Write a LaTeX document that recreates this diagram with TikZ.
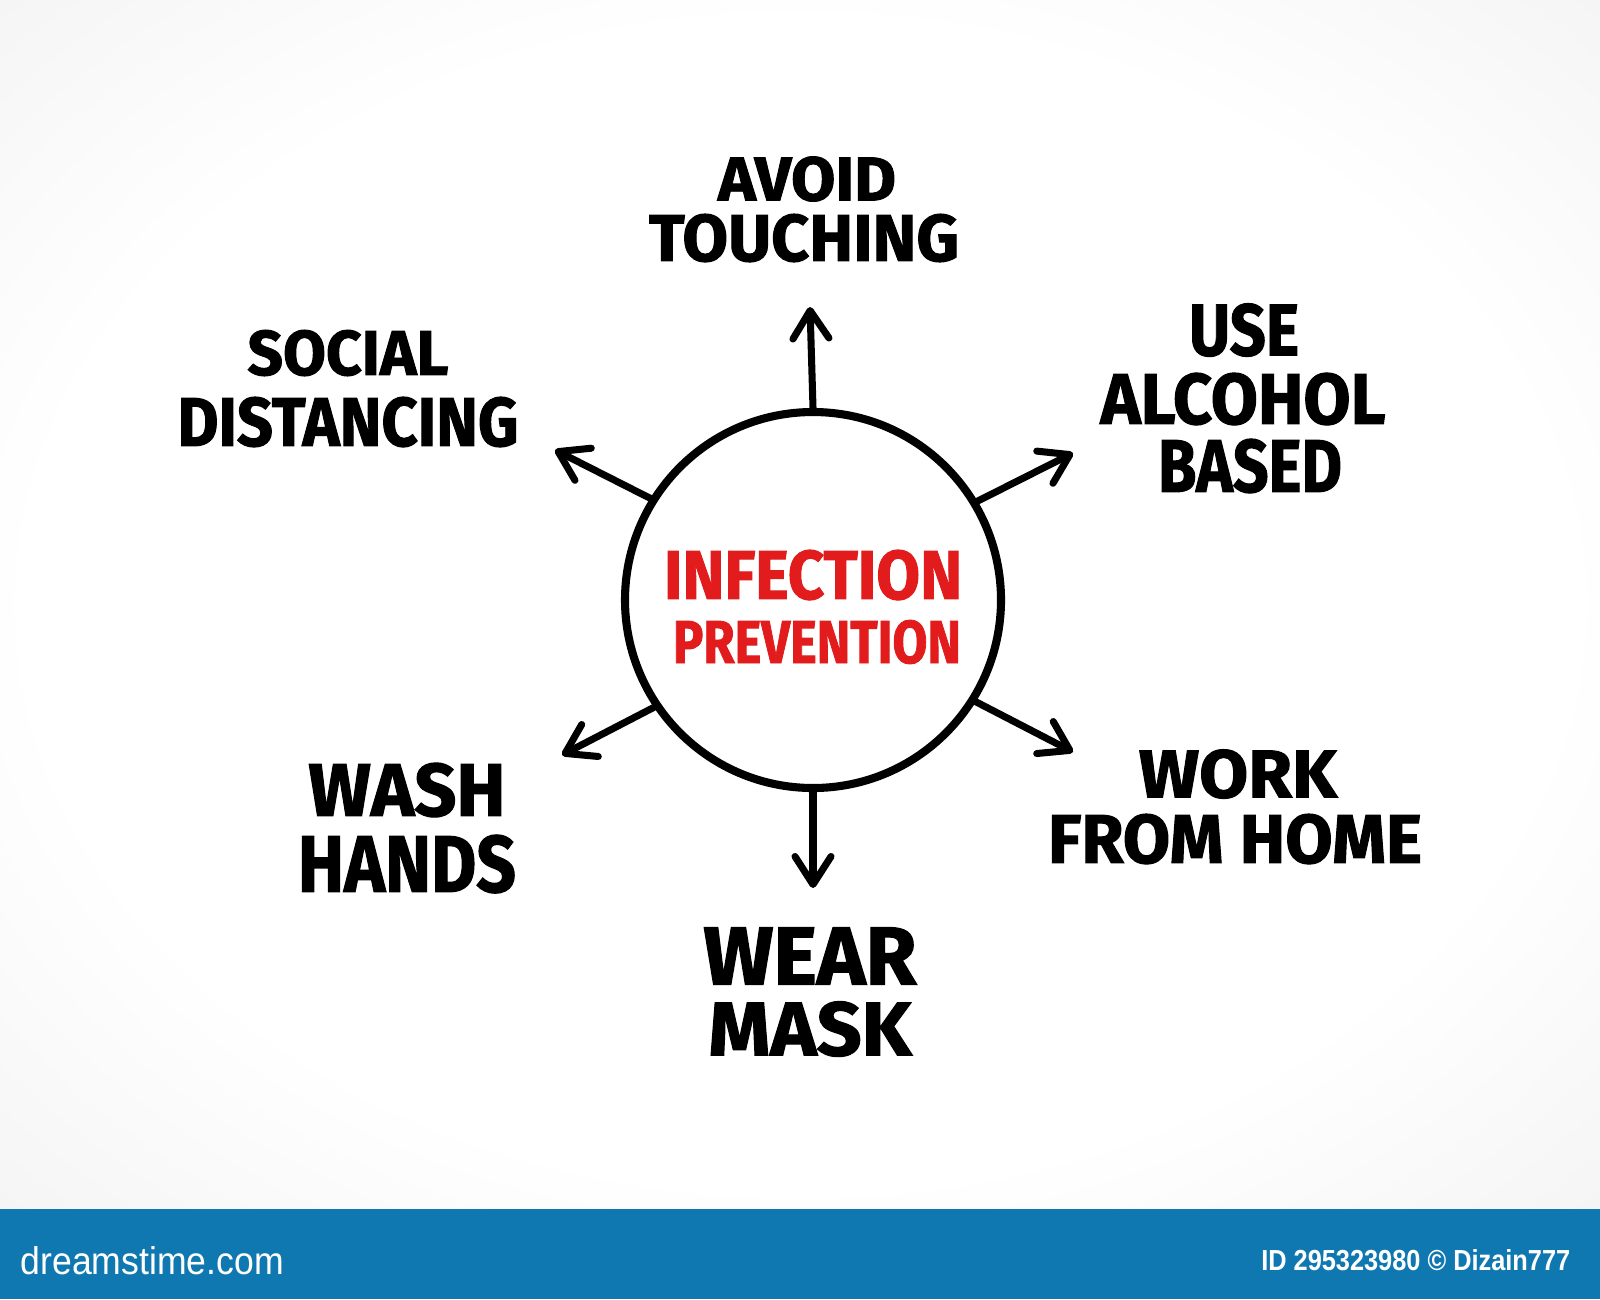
\documentclass[tikz,border=0pt]{standalone}
\usepackage{fontspec}
\setmainfont{Fira Sans}
\newfontfamily\hand{Fira Sans}[BoldFeatures={FakeBold=1.5}]
\newfontfamily\logofont{Liberation Sans}
\usetikzlibrary{arrows.meta}
\newlength\pxu
\setlength\pxu{0.01cm}
\newcommand\fitline[3]{\resizebox{#1\pxu}{#2\pxu}{\hand\bfseries #3}}
\definecolor{barblue}{RGB}{16,120,176}
\definecolor{inkred}{RGB}{226,28,28}
\pgfdeclareradialshading{vignette}{\pgfpoint{0bp}{0bp}}{color(0bp)=(white); color(24bp)=(white); color(50bp)=(white!91!black); color(72bp)=(white!86!black)}
\begin{document}
\begin{tikzpicture}[x=0.01cm,y=-0.01cm,
  word/.style={inner sep=0pt, text=black},
  redword/.style={inner sep=0pt, text=inkred},
  spoke/.style={line width=2pt, line cap=round, -{Straight Barb[round,length=2.8mm,width=3.6mm]}},
  hub/.style={circle, draw, line width=2.3pt, minimum size=376\pxu, inner sep=0pt, fill=white},
]
\useasboundingbox (0,0) rectangle (1600,1299);
\shade[shading=vignette] (0,0) rectangle (1600,1209);
\fill[barblue] (0,1209) rectangle (1600,1299);

% hub
\node[hub] (hub) at (813,600) {};
\node[redword] (inf) at (813,575) {\fitline{298}{49}{INFECTION}};
\node[redword] (prev) at (817,642) {\fitline{288}{43}{PREVENTION}};

% labels
\node[word] (avoid) at (807,179) {\fitline{178}{44}{AVOID}};
\node[word] (touch) at (804,238) {\fitline{310}{47}{TOUCHING}};
\node[word] (social) at (348,353) {\fitline{201}{45}{SOCIAL}};
\node[word] (dist) at (348,422) {\fitline{341}{49}{DISTANCING}};
\node[word] (use) at (1244,330) {\fitline{110}{52}{USE}};
\node[word] (alc) at (1243,399) {\fitline{285}{51}{ALCOHOL}};
\node[word] (based) at (1250,466) {\fitline{184}{53}{BASED}};
\node[word] (wash) at (407,790) {\fitline{197}{53}{WASH}};
\node[word] (hands) at (407,864) {\fitline{218}{57}{HANDS}};
\node[word] (work) at (1238,774) {\fitline{198}{48}{WORK}};
\node[word] (fromhome) at (1235,839) {\fitline{374}{49}{FROM HOME}};
\node[word] (wear) at (810,956) {\fitline{213}{57}{WEAR}};
\node[word] (mask) at (810,1029) {\fitline{203}{54}{MASK}};

% arrow tips
\coordinate (tAvoid) at (810,307);
\coordinate (tSocial) at (555,450);
\coordinate (tUse) at (1073,453);
\coordinate (tWash) at (562,755);
\coordinate (tWork) at (1073,752);
\coordinate (tWear) at (813,888);

\draw[spoke] (hub.90) -- (tAvoid);
\draw[spoke] (hub.148) -- (tSocial);
\draw[spoke] (hub.31) -- (tUse);
\draw[spoke] (hub.214) -- (tWash);
\draw[spoke] (hub.328) -- (tWork);
\draw[spoke] (hub.270) -- (tWear);

% footer
\node[inner sep=0pt, text=white, anchor=west] (logo) at (20,1261) {\resizebox{263\pxu}{28\pxu}{\logofont dreamstime.com}};
\node[inner sep=0pt, text=white, anchor=east] (imgid) at (1571,1260) {\resizebox{309\pxu}{21\pxu}{\logofont\bfseries ID 295323980 © Dizain777}};
\end{tikzpicture}
\end{document}
